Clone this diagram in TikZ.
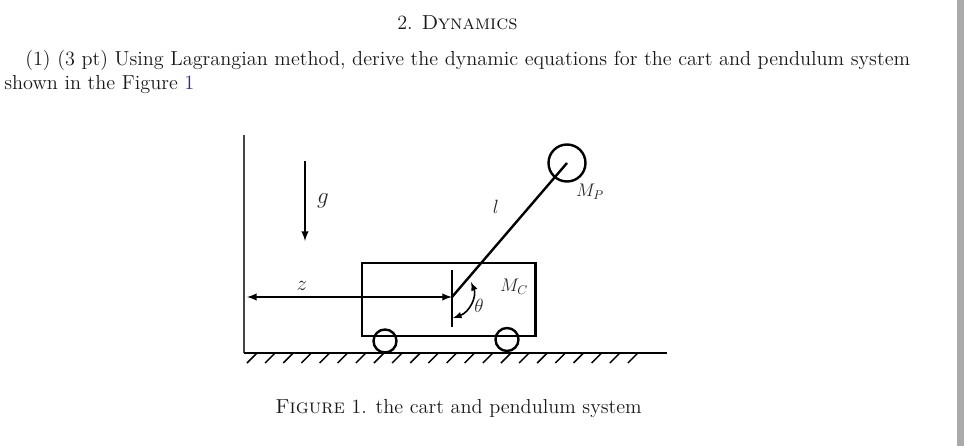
\documentclass[tikz,border=0pt]{standalone}
\usepackage{tikz}
\definecolor{linkblue}{RGB}{40, 40, 170}
\definecolor{bargrey}{RGB}{170, 170, 170}
\definecolor{wallgrey}{RGB}{70, 70, 70}
\tikzstyle{cart} = [
  line width=1.8pt,
  draw=black,
]
\tikzstyle{thin line} = [
  line width=1.2pt,
  draw=black,
]
\tikzstyle{hatch} = [
  line width=1.1pt,
  draw=black,
]
\tikzstyle{body text} = [
  anchor=base west,
  inner sep=0pt,
  text=black!90,
  font=\fontsize{14.2}{17}\selectfont,
  scale=1.071,
  transform shape,
]
\tikzstyle{math label} = [
  inner sep=0pt,
  text=black!85,
  font=\fontsize{14.2}{17}\selectfont,
]
\tikzstyle{mass label} = [
  math label,
  scale=0.95,
  transform shape,
]

\begin{document}
\begin{tikzpicture}[x=0.75pt, y=-0.75pt, >=latex]
            \useasboundingbox (0,0) rectangle (968,446);
            \def\wheelr{11.5}

            \coordinate (W) at (244,135);
            \coordinate (O) at (244,352.5);
            \coordinate (E) at (667,352.5);
            \coordinate (P) at (452,297);
            \coordinate (T) at (452,270);
            \coordinate (B) at (452,327);
            \coordinate (M) at (567,163);
            \coordinate (Z) at (247,297);
            \coordinate (G1) at (305,161);
            \coordinate (G2) at (305,241);
            \coordinate (A1) at (471,282);
            \coordinate (A2) at (453,318);

            % Page edge
            \fill[bargrey] (957,0) rectangle (964,446);

            % Wall and ground
            \draw[thin line, draw=wallgrey] (W) -- (O);
            \draw[thin line, line width=1.5pt] (O) -- (E);
            \foreach \i in {0,...,21}
              \draw[hatch] ({247+18.14*\i},363) -- ++(10,-10);

            % Cart and wheels
            \draw[cart] (362,263) rectangle (535.5,336);
            \draw[cart] (385,341) circle(\wheelr);
            \draw[cart] (507,339.5) circle(\wheelr);

            % Pendulum
            \draw[cart] (P) -- (M);
            \draw[cart] (M) circle(18.5);
            \draw[thin line] (T) -- (B);
            \draw[thin line, <->] (A1) .. controls (477,296) and (470,312) .. (A2);

            % Arrows
            \draw[thin line, line width=1.5pt, <->] (Z) -- (P);
            \draw[thin line, line width=1.5pt, ->] (G1) -- (G2);

            % Labels
            \node[math label, scale=1.2] (glabel) at (323,201) {$g$};
            \node[math label, scale=1.1] (zlabel) at (302,286) {$z$};
            \node[math label] (llabel) at (496,207) {$l$};
            \node[mass label] (mp) at (590,192) {$M_P$};
            \node[mass label] (mc) at (514,287) {$M_C$};
            \node[math label] (theta) at (479,306) {$\theta$};

            % Text
            \node[body text] (title) at (397,30) {2. \textsc{Dynamics}};
            \node[body text] (line1) at (25,65) {(1) (3 pt) Using Lagrangian method, derive the dynamic equations for the cart and pendulum system};
            \node[body text] (line2) at (4,89) {shown in the Figure \textcolor{linkblue}{1}};
            \node[body text] (caption) at (275,413) {\textsc{Figure} 1. the cart and pendulum system};
          \end{tikzpicture}
\end{document}
